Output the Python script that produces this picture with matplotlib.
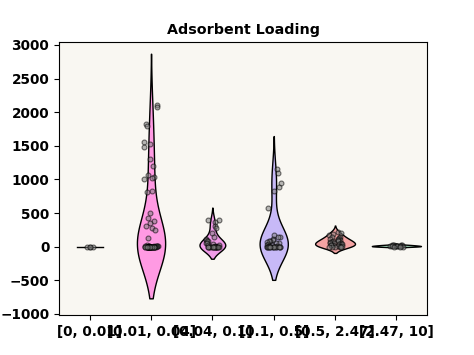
import matplotlib
matplotlib.use('Agg')
import matplotlib.pyplot as plt
import seaborn as sns
import pandas as pd
import numpy as np

np.random.seed(3)

bins = ['[0, 0.01]', '[0.01, 0.04]', '[0.04, 0.1]', '[0.1, 0.5]', '[0.5, 2.47]', '[2.47, 10]']
colors = ['#9ad0f5', '#ff9ae3', '#f09be8', '#c7b9f7', '#f4a3a3', '#a8e0c0']
# relative violin widths seen in the chart
widths = [0.42, 0.46, 0.42, 0.46, 0.65, 0.8]

g0 = [0, 0, 0, 0]
g1 = [2100, 2080, 1820, 1800, 1560, 1520, 1480, 1300, 1200, 1060, 1040, 1020, 1000,
      820, 810, 500, 420, 380, 350, 300, 280, 250, 130,
      20, 15, 12, 10, 8, 6, 5, 4, 3, 2, 2, 1, 1] + [0] * 28
g2 = [400, 390, 360, 300, 270, 200, 150, 120, 100, 90, 80, 60, 50, 40, 30, 20, 10] + [0] * 16
g3 = [1150, 1100, 950, 880, 820, 580, 180, 150, 140, 120, 100, 90, 80, 70, 60, 50,
      40, 30, 20, 10, 5] + [0] * 14
g4 = [220, 200, 190, 170, 150, 140, 130, 120, 110, 100, 95, 90, 80, 75, 70, 60,
      55, 50, 45, 40, 35, 30, 25, 20, 15, 10, 5, 0, 0, 0, 0, 0]
g5 = [30, 25, 22, 20, 18, 15, 12, 10, 8, 6, 5, 3, 2, 0, 0]

groups = [g0, g1, g2, g3, g4, g5]
rows = []
for b, g in zip(bins, groups):
    for v in g:
        rows.append((b, v))
df = pd.DataFrame(rows, columns=['bin', 'loading'])

fig, ax = plt.subplots(figsize=(4.74, 3.55), dpi=100)
fig.subplots_adjust(left=0.1245, right=0.901, top=0.882, bottom=0.113)
ax.set_facecolor('#f9f7f2')

for b, c, w in zip(bins, colors, widths):
    sns.violinplot(data=df[df['bin'] == b], x='bin', y='loading', order=bins,
                   color=c, inner=None, linewidth=1, linecolor='black',
                   density_norm='width', width=w, bw_adjust=1.45, saturation=1, ax=ax)
sns.stripplot(data=df, x='bin', y='loading', order=bins, color='gray',
              edgecolor='black', linewidth=0.8, alpha=0.55, size=3.5, jitter=0.12, ax=ax)

ax.set_xlim(-0.5, 5.5)
ax.set_ylim(-1015, 3045)
ax.set_title('Adsorbent Loading', fontweight='bold', fontsize=10.3)
ax.set_xlabel('')
ax.set_ylabel('')
for lab in ax.get_xticklabels() + ax.get_yticklabels():
    lab.set_fontweight('bold')
    lab.set_fontsize(9.8)

plt.savefig('out.png', dpi=100)
